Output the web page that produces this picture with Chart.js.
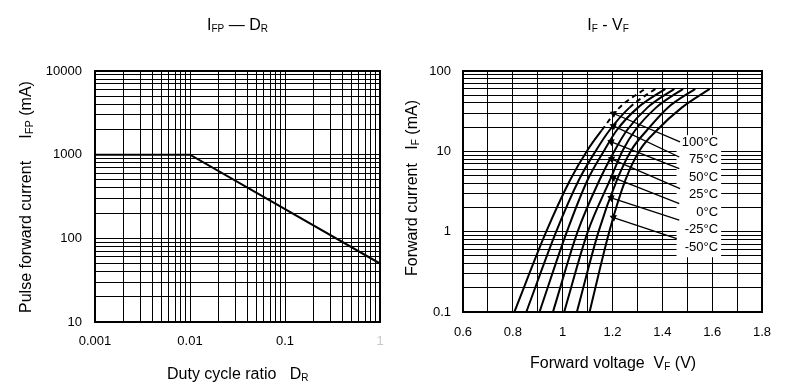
<!DOCTYPE html>
<html lang="en">
  <head>
    <meta charset="utf-8" />
    <title>IFP - DR / IF - VF</title>
    <script src="https://cdn.jsdelivr.net/npm/chart.js"></script>
    <style>
      body {
        margin: 0;
        background: #fff;
        width: 807px;
        height: 391px;
        overflow: hidden;
        position: relative;
      }
      .box {
        position: absolute;
        top: 0;
        height: 391px;
      }
      #left {
        left: 0;
        width: 400px;
      }
      #right {
        left: 400px;
        width: 407px;
      }
    </style>
  </head>
  <body>
    <div class="box" id="left"><canvas id="c1" width="400" height="391"></canvas></div>
    <div class="box" id="right"><canvas id="c2" width="407" height="391"></canvas></div>

    <script>
      // IFP - DR
      const dutyRatio = [0.001, 0.01, 1];
      const pulseCurrent = [1000, 1000, 50];
      const drTicks = [0.001, 0.01, 0.1, 1];
      const drLabels = ["0.001", "0.01", "0.1", "1"];
      const ifpTicks = [10, 100, 1000, 10000];
      const ifpLabels = ["10", "100", "1000", "10000"];

      // IF - VF  (forward voltage read at these currents, mA)
      const temps = ["100°C", "75°C", "50°C", "25°C", "0°C", "-25°C", "-50°C"];
      const ifLevels = [0.1, 1, 4.4, 10.4, 18.3, 35, 60];
      const vf100 = [0.806, 0.934, 1.03, 1.1, 1.157, 1.228, 1.331];
      const vf75 = [0.854, 0.974, 1.065, 1.135, 1.188, 1.268, 1.372];
      const vf50 = [0.907, 1.017, 1.1, 1.168, 1.217, 1.302, 1.412];
      const vf25 = [0.961, 1.06, 1.148, 1.21, 1.258, 1.34, 1.448];
      const vf0 = [1.006, 1.101, 1.19, 1.242, 1.291, 1.375, 1.483];
      const vfm25 = [1.057, 1.144, 1.218, 1.276, 1.338, 1.422, 1.532];
      const vfm50 = [1.108, 1.187, 1.252, 1.31, 1.378, 1.478, 1.59];
      const vfCurves = [vf100, vf75, vf50, vf25, vf0, vfm25, vfm50];
      const dashFrom = [18.3, 35, Infinity, Infinity, Infinity, Infinity, Infinity];
      const vfTicks = [0.6, 0.8, 1, 1.2, 1.4, 1.6, 1.8];
      const vfLabels = ["0.6", "0.8", "1", "1.2", "1.4", "1.6", "1.8"];
      const iTicks = [0.1, 1, 10, 100];
      const iLabels = ["0.1", "1", "10", "100"];

      // leader lines, in data units (V, mA)
      const tipV = [1.204, 1.204, 1.195, 1.197, 1.204, 1.195, 1.204];
      const tipI = [29.6, 20.7, 13.1, 8.0, 4.7, 2.63, 1.5];
      const tailV = [1.471, 1.468, 1.468, 1.471, 1.468, 1.468, 1.458];
      const tailI = [13.1, 8.5, 6.1, 3.44, 2.24, 1.39, 0.82];
      const labelI = [12.9, 7.9, 4.8, 2.92, 1.76, 1.06, 0.634];
      const labelV = 1.624;
      const boxV = [1.457, 1.636];
      const boxI = [0.48, 15.9];

      const FONT = '"Liberation Sans", Arial, sans-serif';

      function logGrid(lo, hi) {
        const t = [];
        for (let e = Math.round(Math.log10(lo)); e < Math.round(Math.log10(hi)); e++) {
          for (let m = 1; m < 10; m++) t.push({ value: +(m * Math.pow(10, e)).toPrecision(6) });
        }
        t.push({ value: hi });
        return t;
      }

      function labelFrom(vals, labs) {
        return (v) => {
          const i = vals.findIndex((t) => Math.abs(t - v) <= 1e-6 * Math.abs(t));
          return i < 0 ? "" : labs[i];
        };
      }

      // text made of runs: [text, size, dy]
      function drawRuns(ctx, parts, x, y, align) {
        let w = 0;
        parts.forEach((p) => {
          ctx.font = p[1] + "px " + FONT;
          w += ctx.measureText(p[0]).width;
        });
        let cx = align === "center" ? x - w / 2 : x;
        ctx.textAlign = "left";
        ctx.textBaseline = "alphabetic";
        parts.forEach((p) => {
          ctx.font = p[1] + "px " + FONT;
          ctx.fillText(p[0], cx, y + (p[2] || 0));
          cx += ctx.measureText(p[0]).width;
        });
      }

      function frame(chart) {
        const ctx = chart.ctx, a = chart.chartArea;
        ctx.strokeStyle = "#000";
        ctx.lineWidth = 2;
        ctx.strokeRect(a.left, a.top, a.right - a.left, a.bottom - a.top);
      }

      const gridOpts = { color: "#000", lineWidth: 1, drawTicks: false };
      const tickFont = { family: FONT, size: 13 };

      // ---------- left chart ----------
      const leftDeco = {
        id: "leftDeco",
        afterDraw(chart) {
          const ctx = chart.ctx, a = chart.chartArea;
          ctx.save();
          frame(chart);
          ctx.fillStyle = "#000";
          drawRuns(ctx, [["I", 16], ["FP", 10, 2], [" \u2014 ", 16], ["D", 16], ["R", 10, 2]], (a.left + a.right) / 2, 30, "center");
          drawRuns(ctx, [["Duty cycle ratio   D", 16], ["R", 10, 2]], 167, 379, "left");
          ctx.translate(31, 197);
          ctx.rotate(-Math.PI / 2);
          drawRuns(ctx, [["Pulse forward current     I", 16], ["FP", 11, 2], [" (mA)", 16]], 0, 0, "center");
          ctx.restore();
        },
      };

      new Chart(document.getElementById("c1"), {
        type: "line",
        data: {
          datasets: [
            {
              data: dutyRatio.map((d, i) => ({ x: d, y: pulseCurrent[i] })),
              borderColor: "#000",
              borderWidth: 2,
              pointRadius: 0,
              tension: 0,
            },
          ],
        },
        options: {
          responsive: false,
          animation: false,
          events: [],
          layout: { padding: { top: 71, right: 20, left: 0, bottom: 0 } },
          plugins: { legend: { display: false }, tooltip: { enabled: false } },
          scales: {
            x: {
              type: "logarithmic",
              min: 0.001,
              max: 1,
              afterBuildTicks: (s) => { s.ticks = logGrid(0.001, 1); },
              afterFit: (s) => { s.height = 69; },
              grid: gridOpts,
              border: { display: false },
              ticks: {
                autoSkip: false,
                maxRotation: 0,
                padding: 12,
                font: tickFont,
                color: (c) => (c.tick && c.tick.value === 1 ? "#c8c8c8" : "#000"),
                callback: labelFrom(drTicks, drLabels),
              },
            },
            y: {
              type: "logarithmic",
              min: 10,
              max: 10000,
              afterBuildTicks: (s) => { s.ticks = logGrid(10, 10000); },
              afterFit: (s) => { s.width = 95; },
              grid: gridOpts,
              border: { display: false },
              ticks: {
                autoSkip: false,
                padding: 13,
                font: tickFont,
                color: "#000",
                callback: labelFrom(ifpTicks, ifpLabels),
              },
            },
          },
        },
        plugins: [leftDeco],
      });

      // ---------- right chart ----------
      const rightDeco = {
        id: "rightDeco",
        beforeDatasetsDraw(chart) {
          const ctx = chart.ctx, x = chart.scales.x, y = chart.scales.y;
          const x0 = x.getPixelForValue(boxV[0]), x1 = x.getPixelForValue(boxV[1]);
          const y0 = y.getPixelForValue(boxI[1]), y1 = y.getPixelForValue(boxI[0]);
          ctx.save();
          ctx.fillStyle = "#fff";
          ctx.fillRect(x0, y0, x1 - x0, y1 - y0);
          ctx.restore();
        },
        afterDraw(chart) {
          const ctx = chart.ctx;
          const x = chart.scales.x, y = chart.scales.y;
          ctx.save();
          frame(chart);
          ctx.fillStyle = "#000";
          ctx.font = "13px " + FONT;
          ctx.textAlign = "right";
          ctx.textBaseline = "middle";
          temps.forEach((t, i) => {
            ctx.fillText(t, x.getPixelForValue(labelV), y.getPixelForValue(labelI[i]));
          });
          drawRuns(ctx, [["I", 16], ["F", 10, 2], [" - ", 16], ["V", 16], ["F", 10, 2]], 208, 30, "center");
          drawRuns(ctx, [["Forward voltage  V", 16], ["F", 10, 2], [" (V)", 16]], 130, 368, "left");
          ctx.translate(17, 188);
          ctx.rotate(-Math.PI / 2);
          drawRuns(ctx, [["Forward current   I", 16], ["F", 10, 2], [" (mA)", 16]], 0, 0, "center");
          ctx.restore();
        },
      };

      const curveSets = vfCurves.map((vf, k) => ({
        data: ifLevels.map((c, i) => ({ x: vf[i], y: c })),
        borderColor: "#000",
        borderWidth: 2,
        pointRadius: 0,
        cubicInterpolationMode: "monotone",
        segment: {
          borderDash: (c) => (c.p0.parsed.y >= dashFrom[k] - 1e-9 ? [5, 4] : undefined),
        },
      }));

      const arrowSets = temps.map((t, k) => ({
        data: [
          { x: tipV[k], y: tipI[k] },
          { x: tailV[k], y: tailI[k] },
        ],
        borderColor: "#000",
        backgroundColor: "#000",
        borderWidth: 1.3,
        pointStyle: "triangle",
        rotation: -67,
        pointRadius: [3, 0],
        tension: 0,
      }));

      new Chart(document.getElementById("c2"), {
        type: "line",
        data: { datasets: curveSets.concat(arrowSets) },
        options: {
          responsive: false,
          animation: false,
          events: [],
          layout: { padding: { top: 71, right: 45, left: 0, bottom: 0 } },
          plugins: { legend: { display: false }, tooltip: { enabled: false } },
          scales: {
            x: {
              type: "linear",
              min: 0.6,
              max: 1.8,
              ticks: {
                stepSize: 0.1,
                autoSkip: false,
                maxRotation: 0,
                padding: 13,
                font: tickFont,
                color: "#000",
                callback: labelFrom(vfTicks, vfLabels),
              },
              afterFit: (s) => { s.height = 79; },
              grid: gridOpts,
              border: { display: false },
            },
            y: {
              type: "logarithmic",
              min: 0.1,
              max: 100,
              afterBuildTicks: (s) => { s.ticks = logGrid(0.1, 100); },
              afterFit: (s) => { s.width = 63; },
              grid: gridOpts,
              border: { display: false },
              ticks: {
                autoSkip: false,
                padding: 12,
                font: tickFont,
                color: "#000",
                callback: labelFrom(iTicks, iLabels),
              },
            },
          },
        },
        plugins: [rightDeco],
      });
    </script>
  </body>
</html>
